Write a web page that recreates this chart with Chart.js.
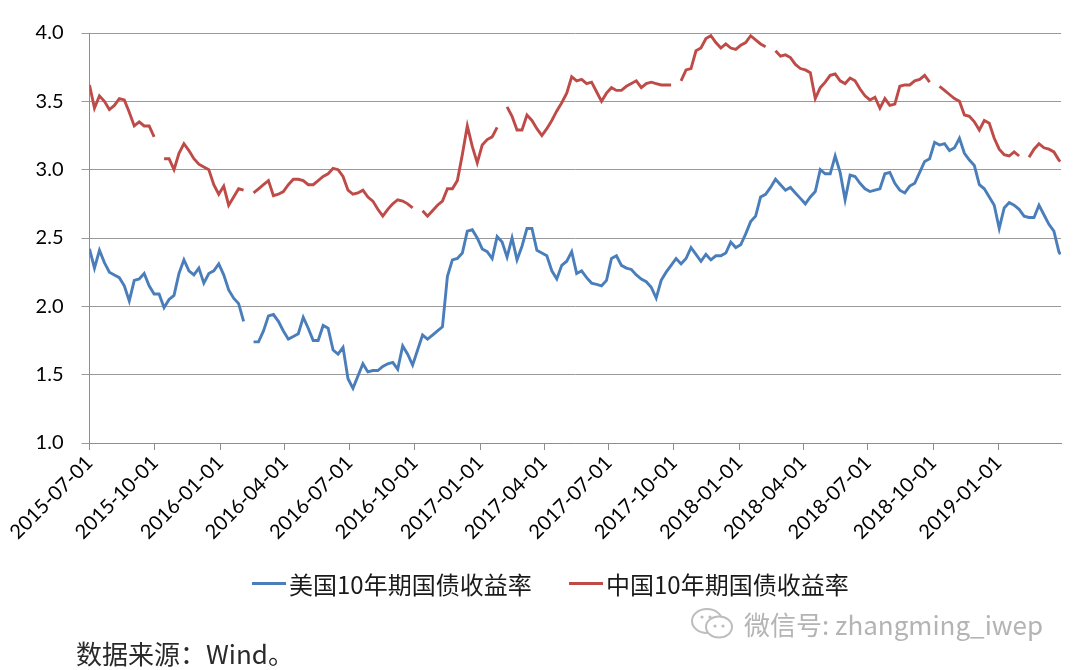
<!DOCTYPE html>
<html>
<head>
<meta charset="utf-8">
<script src="https://cdn.jsdelivr.net/npm/chart.js@4.4.1/dist/chart.umd.min.js"></script>
<style>
  html, body { margin: 0; padding: 0; background: #ffffff; }
  #wrap { position: relative; width: 1080px; height: 670px; overflow: hidden; background: #fff; }
  #c { position: absolute; left: 0; top: 0; }
  #legend { position: absolute; left: 0; top: 566px; height: 34px; display: flex; align-items: center;
            font-family: "Noto Sans CJK SC", sans-serif; font-size: 24px; color: #1a1a1a; white-space: nowrap; }
  .item { position: absolute; top: 0; display: flex; align-items: center; height: 34px; }
  .swatch { width: 34px; height: 3px; margin-right: 3px; }
  #source { position: absolute; left: 76px; top: 636px; font-family: "Noto Sans CJK SC", sans-serif;
            font-size: 26px; color: #2a2a2a; line-height: 34px; white-space: nowrap; }
  #mark { position: absolute; left: 690px; top: 607px; display: flex; align-items: center; white-space: nowrap;
          font-family: "Noto Sans CJK SC", sans-serif; font-size: 26px; color: #b4b4b4; line-height: 34px; }
  #mark svg { margin-right: 8px; }
</style>
</head>
<body>
<div id="wrap">
  <canvas id="c" width="1080" height="670"></canvas>
  <div id="legend"></div>
  <div id="source">数据来源：Wind。</div>
  <div id="mark">
    <svg width="46" height="34" viewBox="0 0 46 34">
      <ellipse cx="17" cy="14" rx="15" ry="12" fill="none" stroke="#bdbdbd" stroke-width="2"/>
      <ellipse cx="29" cy="20" rx="13" ry="10.5" fill="#fff" stroke="#bdbdbd" stroke-width="2"/>
      <circle cx="25" cy="19" r="1.6" fill="#bdbdbd"/><circle cx="33" cy="19" r="1.6" fill="#bdbdbd"/>
      <circle cx="12" cy="10" r="1.6" fill="#bdbdbd"/><circle cx="20" cy="10" r="1.6" fill="#bdbdbd"/>
    </svg>
    <span>微信号: zhangming_iwep</span>
  </div>
</div>
<script>
// ---------------- data ----------------
const startDate = '2015-07-01';
const endDate = '2019-03-29';

const seriesNames = ['美国10年期国债收益率', '中国10年期国债收益率'];

const tickLabels = ['2015-07-01','2015-10-01','2016-01-01','2016-04-01','2016-07-01','2016-10-01',
  '2017-01-01','2017-04-01','2017-07-01','2017-10-01','2018-01-01','2018-04-01','2018-07-01',
  '2018-10-01','2019-01-01'];

const dates = [
 '2015-07-01','2015-07-08','2015-07-15','2015-07-22','2015-07-29','2015-08-05','2015-08-12','2015-08-19','2015-08-26',
 '2015-09-02','2015-09-09','2015-09-16','2015-09-23','2015-09-30','2015-10-07','2015-10-14','2015-10-21','2015-10-28',
 '2015-11-04','2015-11-11','2015-11-18','2015-11-25','2015-12-02','2015-12-09','2015-12-16','2015-12-23','2015-12-30',
 '2016-01-06','2016-01-13','2016-01-20','2016-01-27','2016-02-03','2016-02-10','2016-02-17','2016-02-24','2016-03-02',
 '2016-03-09','2016-03-16','2016-03-23','2016-03-30','2016-04-06','2016-04-13','2016-04-20','2016-04-27','2016-05-04',
 '2016-05-11','2016-05-18','2016-05-25','2016-06-01','2016-06-08','2016-06-15','2016-06-22','2016-06-29','2016-07-06',
 '2016-07-13','2016-07-20','2016-07-27','2016-08-03','2016-08-10','2016-08-17','2016-08-24','2016-08-31','2016-09-07',
 '2016-09-14','2016-09-21','2016-09-28','2016-10-05','2016-10-12','2016-10-19','2016-10-26','2016-11-02','2016-11-09',
 '2016-11-16','2016-11-23','2016-11-30','2016-12-07','2016-12-14','2016-12-21','2016-12-28','2017-01-04','2017-01-11',
 '2017-01-18','2017-01-25','2017-02-01','2017-02-08','2017-02-15','2017-02-22','2017-03-01','2017-03-08','2017-03-15',
 '2017-03-22','2017-03-29','2017-04-05','2017-04-12','2017-04-19','2017-04-26','2017-05-03','2017-05-10','2017-05-17',
 '2017-05-24','2017-05-31','2017-06-07','2017-06-14','2017-06-21','2017-06-28','2017-07-05','2017-07-12','2017-07-19',
 '2017-07-26','2017-08-02','2017-08-09','2017-08-16','2017-08-23','2017-08-30','2017-09-06','2017-09-13','2017-09-20',
 '2017-09-27','2017-10-04','2017-10-11','2017-10-18','2017-10-25','2017-11-01','2017-11-08','2017-11-15','2017-11-22',
 '2017-11-29','2017-12-06','2017-12-13','2017-12-20','2017-12-27','2018-01-03','2018-01-10','2018-01-17','2018-01-24',
 '2018-01-31','2018-02-07','2018-02-14','2018-02-21','2018-02-28','2018-03-07','2018-03-14','2018-03-21','2018-03-28',
 '2018-04-04','2018-04-11','2018-04-18','2018-04-25','2018-05-02','2018-05-09','2018-05-16','2018-05-23','2018-05-30',
 '2018-06-06','2018-06-13','2018-06-20','2018-06-27','2018-07-04','2018-07-11','2018-07-18','2018-07-25','2018-08-01',
 '2018-08-08','2018-08-15','2018-08-22','2018-08-29','2018-09-05','2018-09-12','2018-09-19','2018-09-26','2018-10-03',
 '2018-10-10','2018-10-17','2018-10-24','2018-10-31','2018-11-07','2018-11-14','2018-11-21','2018-11-28','2018-12-05',
 '2018-12-12','2018-12-19','2018-12-26','2019-01-02','2019-01-09','2019-01-16','2019-01-23','2019-01-30','2019-02-06',
 '2019-02-13','2019-02-20','2019-02-27','2019-03-06','2019-03-13','2019-03-20','2019-03-27','2019-03-29'
];

const usYield = [
 2.42,2.28,2.41,2.32,2.25,2.23,2.21,2.15,2.04,
 2.19,2.20,2.24,2.15,2.09,2.09,1.99,2.05,2.08,
 2.24,2.34,2.26,2.23,2.28,2.17,2.24,2.26,2.31,
 2.23,2.12,2.06,2.02,1.89,null,1.74,1.74,1.82,
 1.93,1.94,1.89,1.82,1.76,1.78,1.80,1.92,1.84,
 1.75,1.75,1.86,1.84,1.68,1.65,1.70,1.47,1.40,
 1.49,1.58,1.52,1.53,1.53,1.56,1.58,1.59,1.54,
 1.71,1.65,1.57,1.68,1.79,1.76,1.79,1.82,1.85,
 2.22,2.34,2.35,2.39,2.55,2.56,2.50,2.42,2.40,
 2.35,2.51,2.47,2.36,2.50,2.34,2.44,2.57,2.57,
 2.41,2.39,2.37,2.26,2.20,2.30,2.33,2.40,2.24,
 2.26,2.21,2.17,2.16,2.15,2.19,2.35,2.37,2.30,
 2.28,2.27,2.23,2.20,2.18,2.14,2.06,2.19,2.25,
 2.30,2.35,2.31,2.35,2.43,2.38,2.33,2.38,2.34,
 2.37,2.37,2.39,2.47,2.43,2.45,2.53,2.62,2.66,
 2.80,2.82,2.87,2.93,2.89,2.85,2.87,2.83,2.79,
 2.75,2.80,2.84,3.00,2.97,2.97,3.10,2.98,2.78,
 2.96,2.95,2.90,2.86,2.84,2.85,2.86,2.97,2.98,
 2.90,2.85,2.83,2.88,2.90,2.98,3.06,3.08,3.20,
 3.18,3.19,3.14,3.16,3.23,3.12,3.07,3.03,2.89,
 2.86,2.80,2.74,2.57,2.72,2.76,2.74,2.71,2.66,
 2.65,2.65,2.74,2.67,2.60,2.55,2.40,2.38
];

const cnYield = [
 3.62,3.45,3.54,3.50,3.44,3.47,3.52,3.51,3.42,
 3.32,3.35,3.32,3.32,3.24,null,3.08,3.08,3.00,
 3.12,3.19,3.14,3.08,3.04,3.02,3.00,2.89,2.82,
 2.88,2.74,2.80,2.86,2.85,null,2.83,2.86,2.89,
 2.92,2.81,2.82,2.84,2.89,2.93,2.93,2.92,2.89,
 2.89,2.92,2.95,2.97,3.01,3.00,2.95,2.85,2.82,
 2.83,2.85,2.80,2.77,2.71,2.66,2.71,2.75,2.78,
 2.77,2.75,2.72,null,2.70,2.66,2.70,2.74,2.77,
 2.86,2.86,2.92,3.11,3.32,3.17,3.05,3.18,3.22,
 3.24,3.31,null,3.46,3.39,3.29,3.29,3.40,3.36,
 3.30,3.25,3.30,3.36,3.43,3.49,3.56,3.68,3.65,
 3.66,3.63,3.64,3.57,3.50,3.56,3.60,3.58,3.58,
 3.61,3.63,3.65,3.60,3.63,3.64,3.63,3.62,3.62,
 3.62,null,3.65,3.73,3.74,3.87,3.89,3.96,3.98,
 3.93,3.89,3.92,3.89,3.88,3.91,3.93,3.98,3.95,
 3.92,3.90,null,3.87,3.83,3.84,3.82,3.77,3.74,
 3.73,3.71,3.52,3.60,3.64,3.69,3.70,3.65,3.63,
 3.67,3.65,3.59,3.54,3.51,3.53,3.45,3.52,3.47,
 3.48,3.61,3.62,3.62,3.65,3.66,3.69,3.64,null,
 3.61,3.58,3.55,3.52,3.50,3.40,3.39,3.35,3.29,
 3.36,3.34,3.23,3.15,3.11,3.10,3.13,3.10,null,
 3.09,3.15,3.19,3.16,3.15,3.13,3.07,3.06
];

const seriesColors = ['#4a7ebb', '#be4b48'];

// ---------------- chart ----------------
const DAY = 86400000;
const dayOf = d => (Date.parse(d) - Date.parse(startDate)) / DAY;
const toPoints = vals => dates.map((d, i) => ({ x: dayOf(d), y: vals[i] }));

const FONT = '"Lato", "Liberation Sans", sans-serif';
const AXIS_GRAY = '#8e8e8e';

const chart = new Chart(document.getElementById('c'), {
  type: 'line',
  data: {
    datasets: [
      { label: seriesNames[0], data: toPoints(usYield), borderColor: seriesColors[0],
        borderWidth: 2.9, pointRadius: 0, tension: 0, spanGaps: false },
      { label: seriesNames[1], data: toPoints(cnYield), borderColor: seriesColors[1],
        borderWidth: 2.9, pointRadius: 0, tension: 0, spanGaps: false }
    ]
  },
  options: {
    responsive: false,
    animation: false,
    events: [],
    layout: { padding: { top: 33, right: 19, left: 0, bottom: 0 } },
    plugins: { legend: { display: false }, tooltip: { enabled: false } },
    scales: {
      x: {
        type: 'linear',
        min: 0,
        max: dayOf(endDate) + 1,
        afterBuildTicks: s => { s.ticks = tickLabels.map(t => ({ value: dayOf(t) })); },
        afterFit: s => { s.height = 670 - 443; },
        ticks: {
          autoSkip: false, minRotation: 45, maxRotation: 45, padding: 1,
          color: '#000', font: { family: FONT, size: 20 },
          callback: (v, i) => tickLabels[i]
        },
        grid: { drawOnChartArea: false, drawTicks: true, tickLength: 7, color: AXIS_GRAY, lineWidth: 1 },
        border: { color: AXIS_GRAY, width: 1 }
      },
      y: {
        min: 1, max: 4,
        afterFit: s => { s.width = 89.5; },
        ticks: {
          stepSize: 0.5, padding: 18, color: '#000', font: { family: FONT, size: 20 },
          callback: v => Number(v).toFixed(1)
        },
        grid: { color: '#9a9a9a', lineWidth: 1, tickLength: 8 },
        border: { color: AXIS_GRAY, width: 1 }
      }
    }
  }
});

// ---------------- HTML legend built from datasets ----------------
const legend = document.getElementById('legend');
const legendX = [252, 569];
chart.data.datasets.forEach((ds, i) => {
  const item = document.createElement('div');
  item.className = 'item';
  item.style.left = legendX[i] + 'px';
  const sw = document.createElement('span');
  sw.className = 'swatch';
  sw.style.background = ds.borderColor;
  const tx = document.createElement('span');
  tx.textContent = ds.label;
  item.appendChild(sw); item.appendChild(tx);
  legend.appendChild(item);
});
</script>
</body>
</html>
